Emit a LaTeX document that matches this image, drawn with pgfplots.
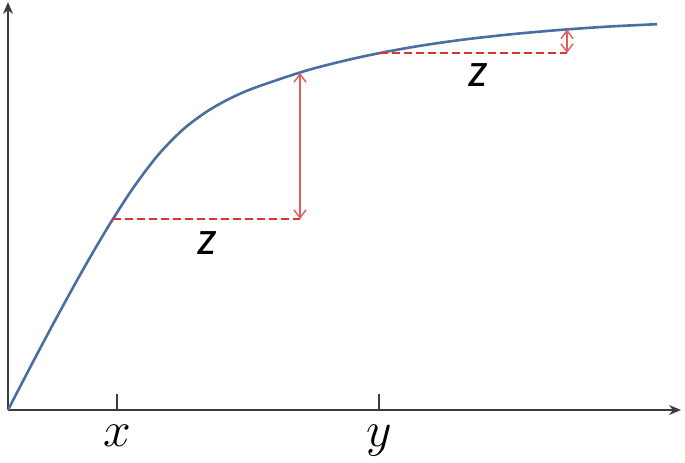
\documentclass[border=0pt]{standalone}
\usepackage{pgfplots}
\pgfplotsset{compat=1.18}
\usepackage{fontspec}
\newfontfamily\carlito{Carlito}
\usetikzlibrary{arrows.meta}
\definecolor{curveblue}{RGB}{74,110,160}
\definecolor{markred}{RGB}{222,50,50}
\definecolor{axisgray}{RGB}{60,60,60}

\begin{document}
\begin{tikzpicture}
\begin{axis}[
    scale only axis,
    width=336.5pt, height=204pt,
    xmin=0, xmax=673, ymin=0, ymax=408,
    axis lines=left,
    axis line style={axisgray, line width=1pt, -{Stealth[length=6pt,width=5pt]}},
    xtick={109,371},
    xticklabels={$x$,$y$},
    xtick align=inside,
    major tick length=8pt,
    xtick style={axisgray, line width=0.8pt},
    ytick=\empty,
    xticklabel style={font=\fontsize{23}{25}\selectfont, yshift=-4pt},
    clip=false,
]
% curve
\addplot[curveblue, line width=1.3pt, smooth] coordinates {
    (0,0) (25,48.1) (50,95) (75,140.3) (100,183) (125,221.8) (150,254.9)
    (175,280.5) (200,299.2) (225,313) (250,323.4) (300,339.9) (350,352.4)
    (400,362.2) (450,369.7) (500,375.4) (550,379.9) (600,383.4) (649,385.8)
};
% red dashed horizontals
\addplot[markred, line width=0.9pt, dash pattern=on 4pt off 2pt] coordinates {(105,191) (292,191)};
\addplot[markred, line width=0.9pt, dash pattern=on 4pt off 2pt] coordinates {(372,357) (559,357)};
% red vertical double arrows
\addplot[markred!80, line width=0.7pt, {Straight Barb[length=4pt,width=6pt]}-{Straight Barb[length=4pt,width=6pt]}] coordinates {(292,191) (292,337)};
\addplot[markred!80, line width=0.7pt, {Straight Barb[length=4pt,width=6pt]}-{Straight Barb[length=4pt,width=6pt]}] coordinates {(559,357) (559,380.5)};
% labels
\node[font=\carlito\itshape\fontsize{24}{26}\selectfont] at (axis cs:199,167) {z};
\node[font=\carlito\itshape\fontsize{24}{26}\selectfont] at (axis cs:470,335) {z};
% bounding box
\path (axis cs:-8,-49) rectangle (axis cs:677,410);
\end{axis}
\end{tikzpicture}
\end{document}
